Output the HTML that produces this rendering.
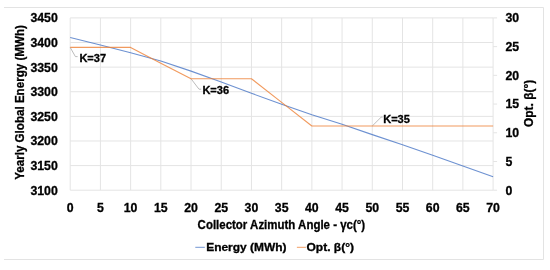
<!DOCTYPE html>
<html><head><meta charset="utf-8"><style>
html,body{margin:0;padding:0;background:#fff;width:550px;height:270px;overflow:hidden}
svg{display:block}
text{font-family:"Liberation Sans",sans-serif;font-weight:bold;fill:#000;stroke:#000;stroke-width:0.3px;}
</style></head><body>
<svg width="550" height="270" viewBox="0 0 550 270">
<rect width="550" height="270" fill="#fff"/>
<path d="M4 7.5H543.5V259.5H4" fill="none" stroke="#e3e3e3" stroke-width="1"/>
<line x1="70.20" y1="190.20" x2="493.10" y2="190.20" stroke="#e4e4e4"/>
<line x1="70.20" y1="165.59" x2="493.10" y2="165.59" stroke="#e4e4e4"/>
<line x1="70.20" y1="140.97" x2="493.10" y2="140.97" stroke="#e4e4e4"/>
<line x1="70.20" y1="116.36" x2="493.10" y2="116.36" stroke="#e4e4e4"/>
<line x1="70.20" y1="91.74" x2="493.10" y2="91.74" stroke="#e4e4e4"/>
<line x1="70.20" y1="67.13" x2="493.10" y2="67.13" stroke="#e4e4e4"/>
<line x1="70.20" y1="42.51" x2="493.10" y2="42.51" stroke="#e4e4e4"/>
<line x1="70.20" y1="17.90" x2="493.10" y2="17.90" stroke="#e4e4e4"/>
<line x1="70.20" y1="17.90" x2="70.20" y2="190.20" stroke="#e4e4e4"/>
<line x1="100.41" y1="17.90" x2="100.41" y2="190.20" stroke="#e4e4e4"/>
<line x1="130.61" y1="17.90" x2="130.61" y2="190.20" stroke="#e4e4e4"/>
<line x1="160.82" y1="17.90" x2="160.82" y2="190.20" stroke="#e4e4e4"/>
<line x1="191.03" y1="17.90" x2="191.03" y2="190.20" stroke="#e4e4e4"/>
<line x1="221.24" y1="17.90" x2="221.24" y2="190.20" stroke="#e4e4e4"/>
<line x1="251.44" y1="17.90" x2="251.44" y2="190.20" stroke="#e4e4e4"/>
<line x1="281.65" y1="17.90" x2="281.65" y2="190.20" stroke="#e4e4e4"/>
<line x1="311.86" y1="17.90" x2="311.86" y2="190.20" stroke="#e4e4e4"/>
<line x1="342.06" y1="17.90" x2="342.06" y2="190.20" stroke="#e4e4e4"/>
<line x1="372.27" y1="17.90" x2="372.27" y2="190.20" stroke="#e4e4e4"/>
<line x1="402.48" y1="17.90" x2="402.48" y2="190.20" stroke="#e4e4e4"/>
<line x1="432.69" y1="17.90" x2="432.69" y2="190.20" stroke="#e4e4e4"/>
<line x1="462.89" y1="17.90" x2="462.89" y2="190.20" stroke="#e4e4e4"/>
<line x1="493.10" y1="17.90" x2="493.10" y2="190.20" stroke="#e4e4e4"/>
<line x1="493.10" y1="190.20" x2="497.10" y2="190.20" stroke="#e4e4e4"/>
<line x1="493.10" y1="161.48" x2="497.10" y2="161.48" stroke="#e4e4e4"/>
<line x1="493.10" y1="132.77" x2="497.10" y2="132.77" stroke="#e4e4e4"/>
<line x1="493.10" y1="104.05" x2="497.10" y2="104.05" stroke="#e4e4e4"/>
<line x1="493.10" y1="75.33" x2="497.10" y2="75.33" stroke="#e4e4e4"/>
<line x1="493.10" y1="46.62" x2="497.10" y2="46.62" stroke="#e4e4e4"/>
<line x1="493.10" y1="17.90" x2="497.10" y2="17.90" stroke="#e4e4e4"/>
<polyline points="70.20,47.42 75.4,56.6 77.6,56.6" fill="none" stroke="#a6a6a6" stroke-width="0.75"/>
<polyline points="191.03,78.72 199.0,89.2 201.2,89.2" fill="none" stroke="#a6a6a6" stroke-width="0.75"/>
<polyline points="372.27,125.99 381.1,117.2 382.5,117.2" fill="none" stroke="#a6a6a6" stroke-width="0.75"/>
<polyline points="70.20,37.49 100.41,44.98 130.61,52.80 160.82,60.98 191.03,71.12 221.24,82.00 251.44,93.32 281.65,104.15 311.86,114.68 342.06,124.23 372.27,134.62 402.48,144.71 432.69,155.35 462.89,165.98 493.10,176.71" fill="none" stroke="#4472C4" stroke-width="1.1" stroke-opacity="0.78" stroke-linejoin="round"/>
<polyline points="70.20,47.42 100.41,47.42 130.61,47.42 160.82,63.27 191.03,78.72 221.24,78.72 251.44,78.72 281.65,102.33 311.86,125.99 342.06,125.99 372.27,125.99 402.48,125.99 432.69,125.99 462.89,125.99 493.10,125.99" fill="none" stroke="#ED7D31" stroke-width="1.1" stroke-opacity="0.78" stroke-linejoin="round"/>
<line x1="195.3" y1="247.3" x2="204.8" y2="247.3" stroke="#4472C4" stroke-width="1" stroke-opacity="0.75"/>
<line x1="296.9" y1="247.3" x2="305.9" y2="247.3" stroke="#ED7D31" stroke-width="1" stroke-opacity="0.75"/>
<text x="57.8" y="194.60" text-anchor="end" font-size="12.3">3100</text>
<text x="57.8" y="169.99" text-anchor="end" font-size="12.3">3150</text>
<text x="57.8" y="145.37" text-anchor="end" font-size="12.3">3200</text>
<text x="57.8" y="120.76" text-anchor="end" font-size="12.3">3250</text>
<text x="57.8" y="96.14" text-anchor="end" font-size="12.3">3300</text>
<text x="57.8" y="71.53" text-anchor="end" font-size="12.3">3350</text>
<text x="57.8" y="46.91" text-anchor="end" font-size="12.3">3400</text>
<text x="57.8" y="22.30" text-anchor="end" font-size="12.3">3450</text>
<text x="505.5" y="194.60" font-size="12.3">0</text>
<text x="505.5" y="165.88" font-size="12.3">5</text>
<text x="505.5" y="137.17" font-size="12.3">10</text>
<text x="505.5" y="108.45" font-size="12.3">15</text>
<text x="505.5" y="79.73" font-size="12.3">20</text>
<text x="505.5" y="51.02" font-size="12.3">25</text>
<text x="505.5" y="22.30" font-size="12.3">30</text>
<text x="70.20" y="212.0" text-anchor="middle" font-size="12.3">0</text>
<text x="100.41" y="212.0" text-anchor="middle" font-size="12.3">5</text>
<text x="130.61" y="212.0" text-anchor="middle" font-size="12.3">10</text>
<text x="160.82" y="212.0" text-anchor="middle" font-size="12.3">15</text>
<text x="191.03" y="212.0" text-anchor="middle" font-size="12.3">20</text>
<text x="221.24" y="212.0" text-anchor="middle" font-size="12.3">25</text>
<text x="251.44" y="212.0" text-anchor="middle" font-size="12.3">30</text>
<text x="281.65" y="212.0" text-anchor="middle" font-size="12.3">35</text>
<text x="311.86" y="212.0" text-anchor="middle" font-size="12.3">40</text>
<text x="342.06" y="212.0" text-anchor="middle" font-size="12.3">45</text>
<text x="372.27" y="212.0" text-anchor="middle" font-size="12.3">50</text>
<text x="402.48" y="212.0" text-anchor="middle" font-size="12.3">55</text>
<text x="432.69" y="212.0" text-anchor="middle" font-size="12.3">60</text>
<text x="462.89" y="212.0" text-anchor="middle" font-size="12.3">65</text>
<text x="493.10" y="212.0" text-anchor="middle" font-size="12.3">70</text>
<text x="281.4" y="228.9" text-anchor="middle" textLength="167.6" lengthAdjust="spacingAndGlyphs" font-size="12.0">Collector Azimuth Angle - γc(°)</text>
<text transform="translate(23.6,102.5) rotate(-90)" text-anchor="middle" textLength="154.7" lengthAdjust="spacingAndGlyphs" font-size="12.0">Yearly Global Energy (MWh)</text>
<text transform="translate(532.6,103.4) rotate(-90)" text-anchor="middle" textLength="47.0" lengthAdjust="spacingAndGlyphs" font-size="12.0">Opt. β(°)</text>
<text x="79.4" y="61.6" textLength="26.7" lengthAdjust="spacingAndGlyphs" font-size="11.4">K=37</text>
<text x="202.4" y="93.5" textLength="26.7" lengthAdjust="spacingAndGlyphs" font-size="11.4">K=36</text>
<text x="383.2" y="122.5" textLength="26.7" lengthAdjust="spacingAndGlyphs" font-size="11.4">K=35</text>
<text x="206.2" y="250.8" textLength="80.3" lengthAdjust="spacingAndGlyphs" font-size="10.6">Energy (MWh)</text>
<text x="306.5" y="250.8" textLength="47.5" lengthAdjust="spacingAndGlyphs" font-size="10.6">Opt. β(°)</text>
</svg>
</body></html>
